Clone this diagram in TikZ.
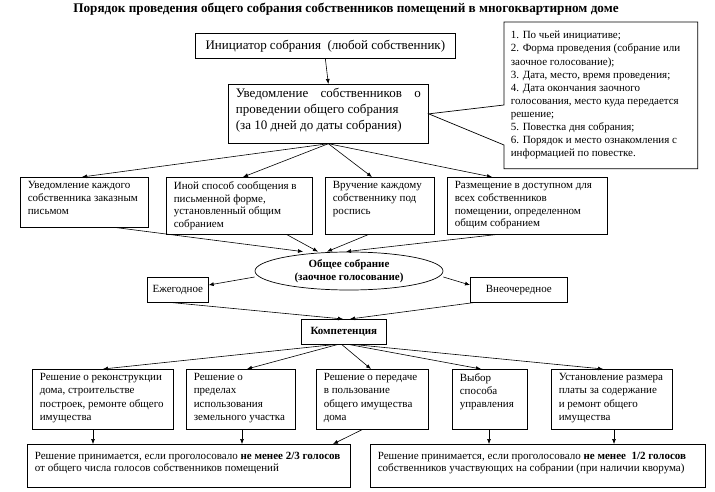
\documentclass[tikz,border=0pt]{standalone}
\usepackage{fontspec}
\setmainfont{Liberation Serif}
\usetikzlibrary{arrows.meta,shapes.geometric,calc}
\tikzset{
  box/.style={draw, line width=0.7pt, inner sep=0pt, anchor=north west, font=\fontsize{11}{12.8}\selectfont},
  bigfont/.style={font=\fontsize{13}{16}\selectfont},
  tallfont/.style={font=\fontsize{11}{13.3}\selectfont},
  arr/.style={-{Latex[length=5pt,width=4pt]}, line width=0.6pt},
  ctr/.style={draw, line width=0.7pt, inner sep=0pt, anchor=north west, font=\fontsize{11}{13}\selectfont},
}
% #1 alignment, #2 name, #3 x1, #4 y1, #5 x2, #6 y2, #7 text, #8 extra style
\newcommand\mybox[8][\raggedright]{%
  \node[box,#8, minimum width={#5pt-#3pt}, minimum height={#6pt-#4pt}] (#2) at (#3,#4)
   {\parbox[c][\dimexpr#6pt-#4pt-8pt\relax][t]{\dimexpr#5pt-#3pt-15pt\relax}{#1 #7}};%
}
\begin{document}
\begin{tikzpicture}[x=1pt,y=-1pt]
\useasboundingbox (0,0) rectangle (715,492);
% title
\node[font=\bfseries\fontsize{13.2}{15}\selectfont] (title) at (346,9)
  {Порядок проведения общего собрания собственников помещений в многоквартирном доме};
% initiator
\node[ctr, bigfont, minimum width=260pt, minimum height=25pt] (b1) at (195,33)
  {Инициатор собрания\ \ (любой собственник)};
\mybox{b2}{228}{84}{428}{143}{\makebox[\linewidth][s]{Уведомление собственников о}\\проведении общего собрания\\(за 10 дней до даты собрания)}{bigfont}
% callout
\node[box, draw=none, minimum width=193pt, minimum height=146pt, font=\fontsize{11}{13.1}\selectfont] (note) at (504,22)
  {\parbox[c][138pt][t]{180pt}{\raggedright\vspace*{5pt}
  1. По чьей инициативе;\\
  2. Форма проведения (собрание или\\
  заочное голосование);\\
  3. Дата, место, время проведения;\\
  4. Дата окончания заочного\\
  голосования, место куда передается\\
  решение;\\
  5. Повестка дня собрания;\\
  6. Порядок и место ознакомления с\\
  информацией по повестке.}};
\draw[line width=0.7pt] (note.north west) -- (note.north east) -- (note.south east)
  -- (note.south west) -- (504,145) -- (b2.east) -- (504,105) -- cycle;
% four notification ways
\mybox{wA}{20}{177}{148}{227}{Уведомление каждого\\собственника заказным\\письмом}{}
\mybox{wB}{166}{177}{312}{234}{Иной способ сообщения в\\письменной форме,\\установленный общим\\собранием}{}
\mybox{wC}{325}{177}{434}{234}{Вручение каждому\\собственнику под\\роспись}{}
\mybox{wD}{447}{177}{607}{234}{Размещение в доступном для\\всех собственников\\помещении, определенном\\общим собранием}{}
% meeting
\node[ellipse, draw, line width=0.7pt, minimum width=188pt, minimum height=38pt, inner sep=0pt,
  align=center, font=\bfseries\fontsize{11}{13}\selectfont] (meet) at (349,271)
  {Общее собрание\\(заочное голосование)};
\node[ctr, minimum width=61pt, minimum height=25pt] (annual) at (147,277) {Ежегодное};
\node[ctr, minimum width=97pt, minimum height=25pt] (extra) at (470,277) {Внеочередное};
\node[ctr, minimum width=85pt, minimum height=25pt, font=\bfseries\fontsize{11}{13}\selectfont] (comp) at (301,319) {Компетенция};
% competence items
\mybox{c1}{32}{369}{173}{429}{Решение о реконструкции\\дома, строительстве\\построек, ремонте общего\\имущества}{tallfont}
\mybox{c2}{186}{369}{295}{429}{Решение о\\пределах\\использования\\земельного участка}{tallfont}
\mybox{c3}{316}{369}{428}{429}{Решение о передаче\\в пользование\\общего имущества\\дома}{tallfont}
\mybox{c4}{452}{369}{527}{429}{Выбор\\способа\\управления}{tallfont}
\mybox{c5}{551}{369}{672}{429}{Установление размера\\платы за содержание\\и ремонт общего\\имущества}{tallfont}
% results
\mybox{r1}{27}{444}{350}{487}{\vspace*{4pt}Решение принимается, если проголосовало \textbf{не менее 2/3 голосов}\\от общего числа голосов собственников помещений}{font=\fontsize{11}{12}\selectfont}
\mybox{r2}{370}{444}{705}{487}{\vspace*{4pt}Решение принимается, если проголосовало \textbf{не менее\ \ 1/2 голосов}\\собственников участвующих на собрании (при наличии кворума)}{font=\fontsize{11}{12}\selectfont}
% connectors
\draw[arr] (b1.south) -- (b2.north);
\draw[arr] (b2.south) -- (wA.north -| 82,0);
\draw[arr] (b2.south) -- (wB.north -| 243,0);
\draw[arr] (b2.south) -- (wC.north -| 372,0);
\draw[arr] (b2.south) -- (wD.north -| 492,0);
\draw[arr] (wA.south -| 117,0) -- (meet.north -| 303,0);
\draw[arr] (wB.south -| 287,0) -- (meet.north -| 318,0);
\draw[arr] (wC.south -| 368,0) -- (meet.north -| 327,0);
\draw[arr] (wD.south -| 495,0) -- (meet.north -| 346,0);
\draw[arr] (meet.west |- 0,277) -- (annual.east |- 0,285);
\draw[arr] (meet.east |- 0,277) -- (extra.west |- 0,285);
\draw[arr] (annual.south -| 173,0) -- (comp.north -| 343,0);
\draw[arr] (extra.south -| 473,0) -- (comp.north -| 350,0);
\draw[arr] (comp.south -| 333,0) -- (c1.north -| 103,0);
\draw[arr] (comp.south -| 337,0) -- (c2.north -| 247,0);
\draw[arr] (comp.south -| 342,0) -- (c3.north -| 371,0);
\draw[arr] (comp.south -| 350,0) -- (c4.north -| 481,0);
\draw[arr] (comp.south -| 356,0) -- (c5.north -| 603,0);
\draw[arr] (c1.south -| 93,0) -- (r1.north -| 93,0);
\draw[arr] (c2.south -| 242,0) -- (r1.north -| 242,0);
\draw[arr] (c3.south -| 362,0) -- (r1.north -| 333,0);
\draw[arr] (c4.south -| 489,0) -- (r2.north -| 489,0);
\draw[arr] (c5.south -| 614,0) -- (r2.north -| 614,0);
\end{tikzpicture}
\end{document}
